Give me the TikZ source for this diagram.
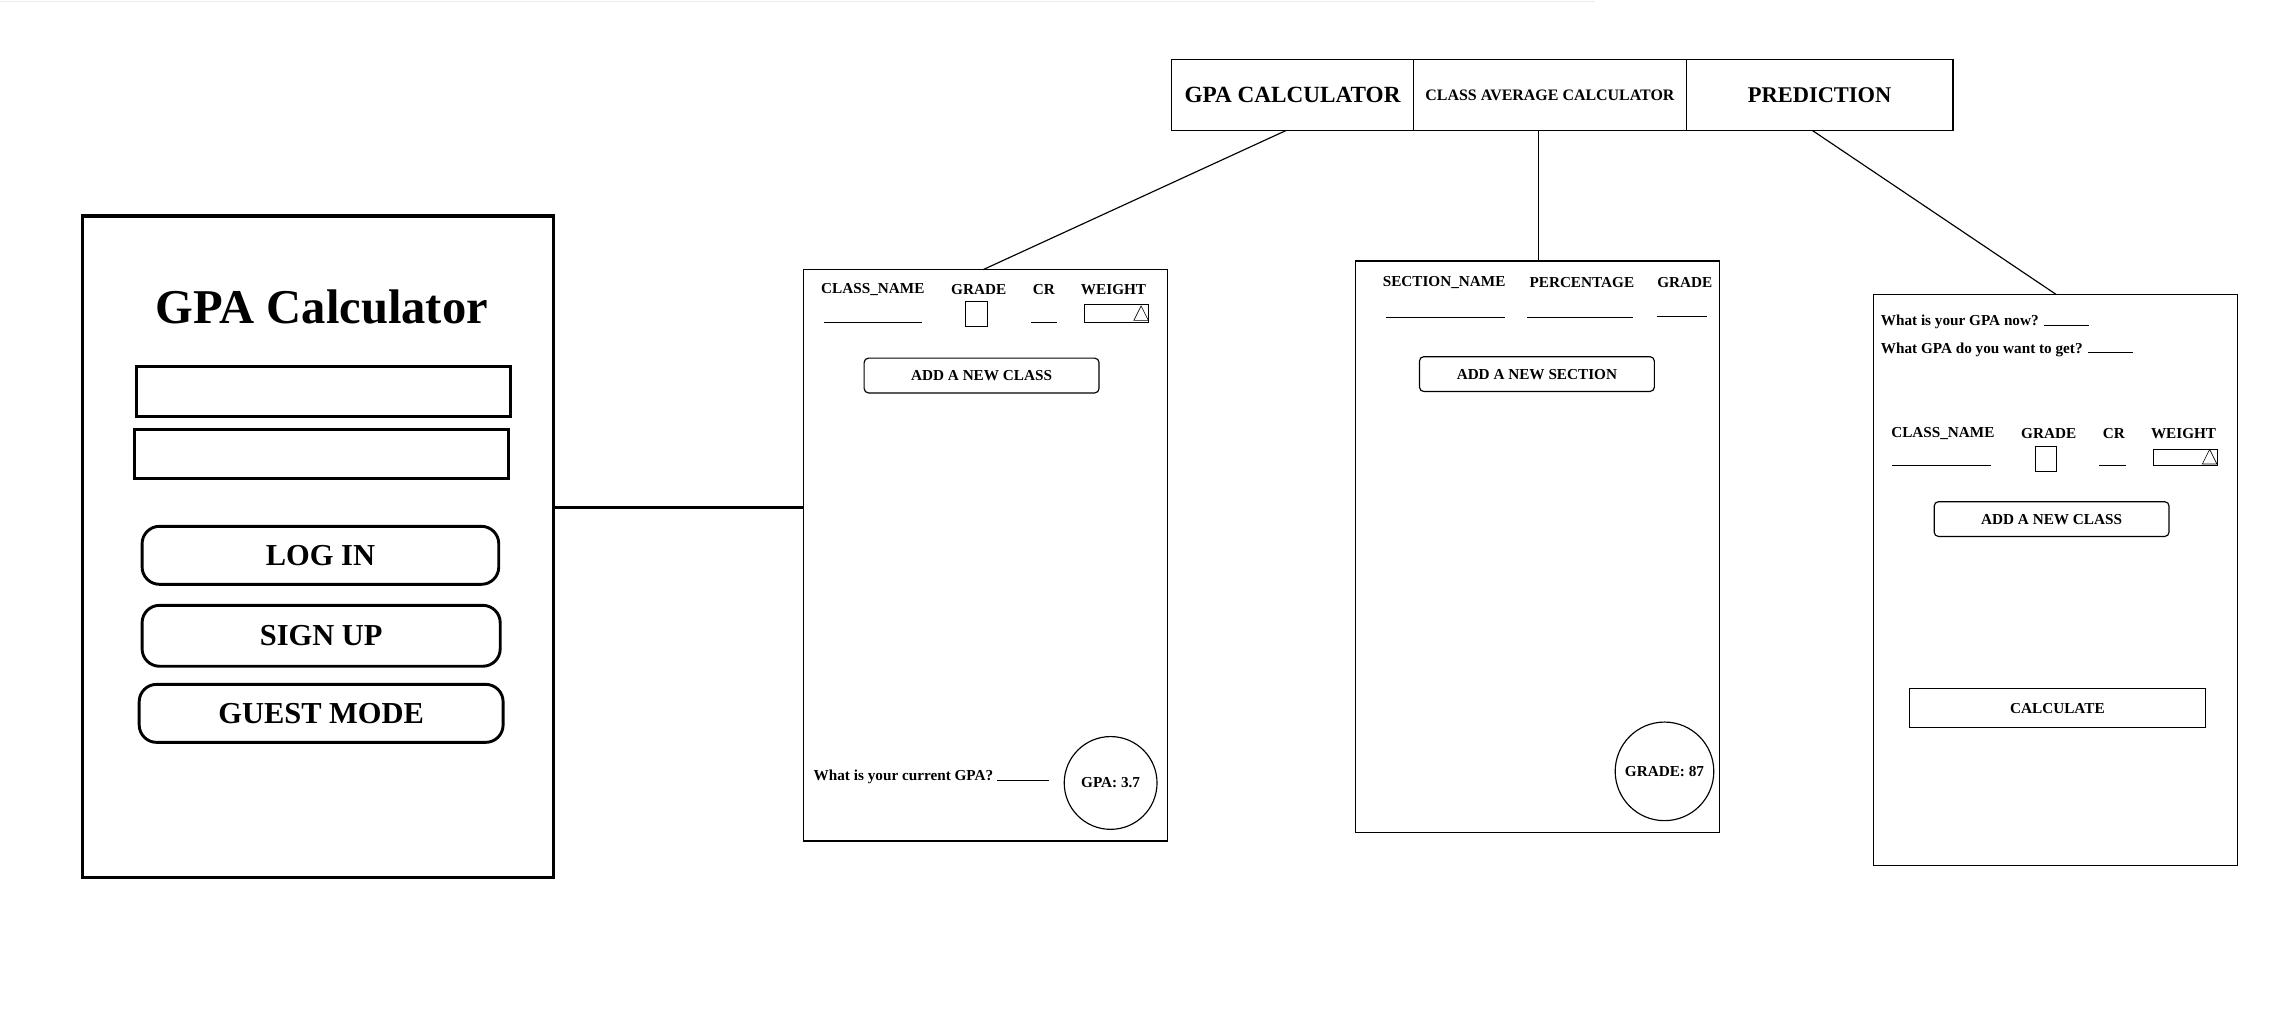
\documentclass[tikz,border=0pt]{standalone}
\usepackage{fontspec}
\setmainfont{Liberation Serif}
\begin{document}
\begin{tikzpicture}[x=1pt,y=-1pt,
 lbl/.style={font=\fontsize{10.5}{13}\selectfont\bfseries,inner sep=0},
 btn/.style={draw,line width=0.8pt,rounded corners=3,font=\fontsize{10.5}{13}\selectfont\bfseries},
 bigbtn/.style={draw,line width=2pt,rounded corners=12,font=\fontsize{21}{24}\selectfont\bfseries},
 panel/.style={draw,line width=0.9pt},
 conn/.style={draw,line width=0.8pt}]
\useasboundingbox (0,0) rectangle (1567,705);
\draw[black!8] (0,1) -- (1100,1);
% login
\draw[line width=2.2pt] (57,149) rectangle (382,605);
\node[font=\fontsize{33.5}{38}\selectfont\bfseries] (title) at (222,212) {GPA Calculator};
\draw[line width=2pt] (94,253) rectangle (352,287);
\draw[line width=2pt] (93,296) rectangle (351,330);
\node[bigbtn,minimum width=246,minimum height=40] (login) at (221,383) {LOG IN};
\node[bigbtn,minimum width=247,minimum height=42] (signup) at (221.5,438.5) {SIGN UP};
\node[bigbtn,minimum width=251,minimum height=40] (guest) at (221.5,492) {GUEST MODE};
\coordinate (lr) at (382,350);
\coordinate (p1l) at (554,350);
\draw[line width=2.2pt] (lr) -- (p1l);
% tabs
\node[draw,line width=0.8pt,minimum width=167,minimum height=49,inner sep=0,font=\fontsize{16}{18}\selectfont\bfseries] (t1) at (891.5,65.5) {GPA CALCULATOR};
\node[draw,line width=0.8pt,minimum width=188,minimum height=49,inner sep=0,font=\fontsize{11}{13}\selectfont\bfseries] (t2) at (1069,65.5) {CLASS AVERAGE CALCULATOR};
\node[draw,line width=0.8pt,minimum width=184,minimum height=49,inner sep=0,font=\fontsize{15.5}{18}\selectfont\bfseries] (t3) at (1255,65.5) {PREDICTION};
% panel 1
\draw[panel] (554,186) rectangle (805,580);
\coordinate (p1t) at (678,186);
\draw[conn] (887,90) -- (p1t);
\node[lbl] at (602,200) {CLASS\_NAME};
\node[lbl] at (675,200) {GRADE};
\node[lbl] at (720,200) {CR};
\node[lbl] at (768,200) {WEIGHT};
\draw (568,222) -- (636,222); \draw (666,208) rectangle (681,225); \draw (711,222) -- (729,222);
\draw (748,210) rectangle (792,222); \draw (782,221) -- (787,211) -- (792,221) -- cycle;
\node[btn,minimum width=162,minimum height=24] (add1) at (677,259) {ADD A NEW CLASS};
\node[lbl,anchor=west] at (561,536) {What is your current GPA? \rule{36pt}{0.5pt}};
\node[draw,line width=0.8pt,circle,minimum size=64,lbl] (gpa) at (766,540) {GPA: 3.7};
% panel 2
\draw[panel] (935,180) rectangle (1186,574);
\draw[conn] (t2.south -| 1061,0) -- (1061,180);
\node[lbl] at (996,195) {SECTION\_NAME};
\node[lbl] at (1091,195) {PERCENTAGE};
\node[lbl] at (1162,195) {GRADE};
\draw (956,219) -- (1038,219); \draw (1053,219) -- (1126,219); \draw (1143,218) -- (1177,218);
\node[btn,minimum width=162,minimum height=24] (add2) at (1060,258) {ADD A NEW SECTION};
\node[draw,line width=0.8pt,circle,minimum size=68,lbl] (grade) at (1148,532) {GRADE: 87};
% panel 3
\draw[panel] (1292,203) rectangle (1543,597);
\draw[conn] (1250,90) -- (1418,203);
\node[lbl,anchor=west] at (1297,222) {What is your GPA now? \rule{31pt}{0.5pt}};
\node[lbl,anchor=west] at (1297,241) {What GPA do you want to get? \rule{31pt}{0.5pt}};
\node[lbl] at (1340,299) {CLASS\_NAME};
\node[lbl] at (1413,299) {GRADE};
\node[lbl] at (1458,299) {CR};
\node[lbl] at (1506,299) {WEIGHT};
\draw (1305,321) -- (1373,321); \draw (1404,308) rectangle (1418,325); \draw (1448,321) -- (1466,321);
\draw (1485,310) rectangle (1529,321); \draw (1519,320) -- (1524,310) -- (1529,320) -- cycle;
\node[btn,minimum width=162,minimum height=24] (add3) at (1415,358) {ADD A NEW CLASS};
\node[draw,line width=0.8pt,minimum width=204,minimum height=27,lbl] (calc) at (1419,488.5) {CALCULATE};
\end{tikzpicture}
\end{document}
